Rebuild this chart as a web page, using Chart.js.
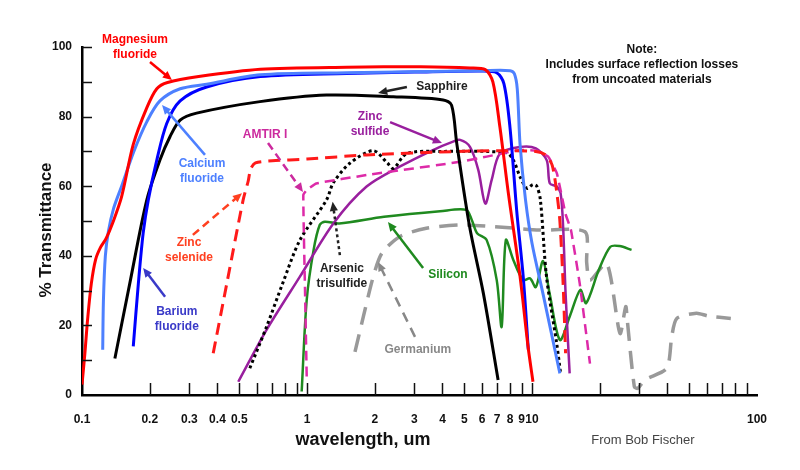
<!DOCTYPE html>
<html>
<head>
<meta charset="utf-8">
<script src="https://cdn.jsdelivr.net/npm/chart.js@4.4.1/dist/chart.umd.min.js"></script>
<style>
  html, body { margin: 0; padding: 0; background: #fff; }
  #wrap { width: 800px; height: 470px; }
</style>
</head>
<body>
<div id="wrap"><canvas id="chart"></canvas></div>
<script>
// [wavelength um, % transmittance]
const magnesiumFluoride = [[0.1, 3], [0.103, 12], [0.106, 22], [0.11, 32], [0.115, 39], [0.121, 42.5], [0.128, 45], [0.137, 49.5], [0.15, 57], [0.169, 72], [0.194, 82.5], [0.215, 88], [0.24, 89.8], [0.33, 91.5], [0.62, 93.6], [1.5, 94.2], [3.2, 94.3], [5.3, 94], [6.2, 93.5], [6.7, 90], [7.2, 77], [7.85, 58], [8.85, 34], [9.6, 14], [10.1, 3.8]];
const calciumFluoride = [[0.1236, 13], [0.1245, 27], [0.127, 40], [0.131, 47], [0.138, 53.5], [0.15, 60], [0.17, 70], [0.194, 78.5], [0.222, 84.5], [0.273, 88], [0.358, 89.3], [0.62, 92], [1.5, 92.6], [3, 92.9], [6, 93.2], [8.0, 93.2], [8.35, 92.3], [8.6, 88], [8.85, 72], [9.36, 56], [10.0, 43.6], [11.2, 29], [13.3, 6.2]];
const bariumFluoride = [[0.169, 14], [0.178, 32], [0.187, 46.5], [0.197, 56], [0.215, 67.5], [0.238, 78], [0.273, 84.5], [0.358, 88.5], [0.62, 91.5], [1.5, 92.4], [3, 92.8], [6, 93.1], [6.97, 92.6], [7.5, 89.5], [7.98, 77], [8.55, 53], [9.14, 34], [9.63, 13]];
const sapphire = [[0.14, 10.5], [0.163, 32], [0.194, 56], [0.222, 67.5], [0.246, 74.2], [0.273, 79], [0.323, 81], [0.618, 84.3], [1.22, 86.2], [2.42, 85.7], [4.03, 84.8], [4.39, 83.3], [4.63, 72.3], [5.28, 48.4], [6.08, 29.2], [7.07, 4.3]];
const zincSelenide = [[0.383, 12], [0.44, 32], [0.52, 56], [0.548, 61.5], [0.562, 65], [0.59, 66.7], [0.7, 67.3], [1.0, 67.8], [1.84, 69], [4.7, 70], [7, 70.2], [10.4, 70], [11.5, 69], [12.3, 66], [12.9, 58], [13.3, 50], [13.75, 32], [14.1, 12]];
const amtir1 = [[0.997, 5.3], [0.98, 30], [0.963, 57.5], [1.0, 59], [1.1, 60.8], [1.84, 63.2], [4.79, 67], [6.29, 68.5], [8.85, 70.4], [10.5, 70.2], [11.8, 68.5], [12.9, 63.7], [14.1, 52], [14.9, 47.4], [16.3, 32], [18.1, 9]];
const arsenicTrisulfide = [[0.557, 7.7], [0.661, 19.6], [0.78, 32.1], [0.93, 44.5], [1.22, 56], [1.31, 61], [1.55, 66.6], [1.97, 70.2], [2.28, 66.6], [2.42, 65.1], [2.78, 69.4], [4, 70], [7.7, 69.6], [8.26, 67.5], [8.85, 62.7], [9.5, 59.4], [10.1, 60.5], [10.5, 60], [10.9, 56], [11.6, 34], [12.87, 14.9], [13.4, 6.2]];
const zincSulfide = [[0.495, 3.8], [0.661, 18.7], [0.93, 34], [1.31, 49.3], [1.84, 59.9], [2.58, 65.6], [3.63, 70.4], [4.46, 72.8], [4.79, 73.3], [5.3, 71.3], [5.77, 64.7], [6.2, 55], [6.62, 61.8], [7.21, 69.4], [8.85, 71.3], [10.4, 70.9], [11.62, 67.5], [12.0, 60.8], [12.88, 59.9], [13.4, 58], [13.75, 48.4], [14.1, 29.2], [14.7, 6.2]];
const silicon = [[0.947, 1], [0.997, 27.3], [1.07, 41.7], [1.14, 48.9], [1.2, 49.8], [1.39, 49.3], [2.2, 51.2], [3.9, 52.8], [5.1, 53.2], [5.4, 50.3], [5.7, 46.5], [6.29, 44.5], [6.97, 33], [7.33, 19.6], [7.65, 44.5], [8.26, 38.8], [9.14, 33], [9.8, 33.5], [10.4, 31], [11.2, 38.5], [11.97, 29.2], [13.3, 15.8], [14.7, 22.5], [16.4, 30.2], [17.4, 26.4], [19.8, 35.9], [22.3, 42.6], [24.5, 42.8], [27.7, 41.7]];
const germanium = [[1.634, 12.4], [1.78, 22.5], [1.97, 34], [2.15, 40.7], [2.58, 45.5], [3.39, 47.9], [4.79, 48.9], [6.72, 48.4], [10.8, 47.4], [17.2, 46.9], [17.5, 38], [18.1, 33], [21.5, 37.8], [24.6, 17.7], [26.1, 25.4], [26.5, 21.6], [28.5, 2.4], [29.5, 1.9], [31.7, 4.3], [39.7, 7.7], [41.8, 16.8], [44, 22], [53.8, 23.5], [60.6, 22.7], [76.5, 22]];

const xTicks = [0.1, 0.2, 0.3, 0.4, 0.5, 0.6, 0.7, 0.8, 0.9, 1, 2, 3, 4, 5, 6, 7, 8, 9, 10, 20, 30, 40, 50, 60, 70, 80, 90, 100];
const xLabels = [0.1, 0.2, 0.3, 0.4, 0.5, 1, 2, 3, 4, 5, 6, 7, 8, 9, 10, 100];
const yTicks = [0, 10, 20, 30, 40, 50, 60, 70, 80, 90, 100];
const yLabels = [0, 20, 40, 60, 80, 100];

const FONT = "Arial, 'Liberation Sans', sans-serif";

// callouts, anchored in data units (wavelength, %)
const notes = [
    { lines: ['Magnesium', 'fluoride'], at: [0.172, 102], color: '#ff0000', from: [0.2005, 95.7], to: [0.251, 90.5], dash: [] },
    { lines: ['Sapphire'], at: [3.98, 88.5], color: '#222222', from: [2.78, 88.5], to: [2.07, 86.8], dash: [] },
    { lines: ['AMTIR I'], at: [0.651, 74.7], color: '#cc2a9e', from: [0.671, 72.4], to: [0.96, 58.3], dash: [8, 5] },
    { lines: ['Zinc', 'sulfide'], at: [1.905, 79.9], color: '#991f9e', from: [2.34, 78.4], to: [3.98, 72.4], dash: [] },
    { lines: ['Calcium', 'fluoride'], at: [0.3415, 66.4], color: '#4d80ff', from: [0.352, 69], to: [0.2268, 83.3], dash: [] },
    { lines: ['Zinc', 'selenide'], at: [0.299, 43.7], color: '#ff4020', from: [0.311, 46], to: [0.514, 58], dash: [8, 5] },
    { lines: ['Barium', 'fluoride'], at: [0.264, 23.9], color: '#3a3ac8', from: [0.234, 28.2], to: [0.187, 36.5], dash: [] },
    { lines: ['Arsenic', 'trisulfide'], at: [1.43, 36.2], color: '#222222', from: [1.4, 40.2], to: [1.3, 55.5], dash: [3, 3] },
    { lines: ['Silicon'], at: [4.23, 34.5], color: '#1f8a1f', from: [3.28, 36.5], to: [2.29, 49.7], dash: [] },
    { lines: ['Germanium'], at: [3.11, 12.9], color: '#888888', from: [3.02, 16.7], to: [2.07, 38.2], dash: [10, 7] }
];

const toPts = arr => arr.map(p => ({ x: p[0], y: p[1] }));

const series = (label, pts, color, width, dash, tension) => ({
    label: label,
    data: toPts(pts),
    borderColor: color,
    borderWidth: width,
    borderDash: dash,
    tension: tension,
    pointRadius: 0,
    fill: false
});

function drawArrow(ctx, x1, y1, x2, y2, color, dash) {
    const ang = Math.atan2(y2 - y1, x2 - x1);
    const head = 10;
    ctx.strokeStyle = color;
    ctx.fillStyle = color;
    ctx.lineWidth = 2.5;
    ctx.setLineDash(dash);
    ctx.beginPath();
    ctx.moveTo(x1, y1);
    ctx.lineTo(x2 - head * 0.8 * Math.cos(ang), y2 - head * 0.8 * Math.sin(ang));
    ctx.stroke();
    ctx.setLineDash([]);
    ctx.beginPath();
    ctx.moveTo(x2, y2);
    ctx.lineTo(x2 - head * Math.cos(ang - 0.42), y2 - head * Math.sin(ang - 0.42));
    ctx.lineTo(x2 - head * Math.cos(ang + 0.42), y2 - head * Math.sin(ang + 0.42));
    ctx.closePath();
    ctx.fill();
}

const decorations = {
    id: 'decorations',
    afterDraw(chart) {
        const { ctx, scales: { x, y } } = chart;
        ctx.save();

        // tick marks point into the plot
        ctx.strokeStyle = '#111';
        ctx.lineWidth = 1.5;
        xTicks.slice(1, -1).forEach(v => {
            const px = Math.round(x.getPixelForValue(v)) + 0.5;
            ctx.beginPath();
            ctx.moveTo(px, y.bottom);
            ctx.lineTo(px, y.bottom - 12);
            ctx.stroke();
        });
        yTicks.slice(1).forEach(v => {
            const py = Math.round(y.getPixelForValue(v)) + 0.5;
            ctx.beginPath();
            ctx.moveTo(x.left, py);
            ctx.lineTo(x.left + 10, py);
            ctx.stroke();
        });

        // callouts
        ctx.textAlign = 'center';
        ctx.textBaseline = 'middle';
        notes.forEach(n => {
            ctx.font = 'bold 12px ' + FONT;
            ctx.fillStyle = n.color;
            const cx = x.getPixelForValue(n.at[0]);
            const cy = y.getPixelForValue(n.at[1]);
            n.lines.forEach((t, i) => ctx.fillText(t, cx, cy + i * 14.5));
            drawArrow(ctx, x.getPixelForValue(n.from[0]), y.getPixelForValue(n.from[1]),
                x.getPixelForValue(n.to[0]), y.getPixelForValue(n.to[1]), n.color, n.dash);
        });

        ctx.font = 'bold 12px ' + FONT;
        ctx.fillStyle = '#111';
        const nx = x.getPixelForValue(30.8);
        const ny = y.getPixelForValue(99.1);
        ['Note:', 'Includes surface reflection losses', 'from uncoated materials']
            .forEach((t, i) => ctx.fillText(t, nx, ny + i * 15));

        ctx.font = '13px ' + FONT;
        ctx.fillStyle = '#444';
        ctx.fillText('From Bob Fischer', x.getPixelForValue(31.1), 440);

        // axis titles
        ctx.font = 'bold 18px ' + FONT;
        ctx.fillStyle = '#111';
        ctx.fillText('wavelength, um', 363, 440);
        ctx.translate(46, 230);
        ctx.rotate(-Math.PI / 2);
        ctx.font = 'bold 17px ' + FONT;
        ctx.fillText('% Transmittance', 0, 0);

        ctx.restore();
    }
};

new Chart(document.getElementById('chart'), {
    type: 'line',
    data: {
        datasets: [
            series('Magnesium fluoride', magnesiumFluoride, '#ff0000', 3, [], 0.3),
            series('Calcium fluoride', calciumFluoride, '#4d80ff', 3, [], 0.3),
            series('Barium fluoride', bariumFluoride, '#0000ff', 3, [], 0.3),
            series('Sapphire', sapphire, '#000000', 3, [], 0.3),
            series('Zinc selenide', zincSelenide, '#ff1a1a', 3, [12, 7], 0.25),
            series('AMTIR I', amtir1, '#dd2aa8', 2.5, [10, 6], 0.1),
            series('Arsenic trisulfide', arsenicTrisulfide, '#000000', 3, [3, 3], 0.3),
            series('Zinc sulfide', zincSulfide, '#991f9e', 2.5, [], 0.3),
            series('Silicon', silicon, '#1f8a1f', 2.5, [], 0.3),
            series('Germanium', germanium, '#999999', 3.5, [18, 10], 0.25)
        ]
    },
    options: {
        responsive: true,
        maintainAspectRatio: false,
        animation: false,
        layout: { padding: { top: 47, right: 43, left: 0, bottom: 0 } },
        plugins: {
            legend: { display: false },
            tooltip: { enabled: false }
        },
        scales: {
            x: {
                type: 'logarithmic',
                min: 0.1,
                max: 100,
                afterBuildTicks: s => { s.ticks = xTicks.map(v => ({ value: v })); },
                afterFit: s => { s.height = 75; },
                grid: { display: false, drawTicks: false },
                border: { color: '#000', width: 2.5 },
                ticks: {
                    autoSkip: false,
                    maxRotation: 0,
                    padding: 17,
                    color: '#111',
                    font: { family: FONT, size: 12, weight: 'bold' },
                    callback: v => xLabels.includes(v) ? String(v) : ''
                }
            },
            y: {
                min: 0,
                max: 100,
                afterBuildTicks: s => { s.ticks = yTicks.map(v => ({ value: v })); },
                afterFit: s => { s.width = 82; },
                grid: { display: false, drawTicks: false },
                border: { color: '#000', width: 2.5 },
                ticks: {
                    padding: 10,
                    color: '#111',
                    font: { family: FONT, size: 12, weight: 'bold' },
                    callback: v => yLabels.includes(v) ? String(v) : ''
                }
            }
        }
    },
    plugins: [decorations]
});
</script>
</body>
</html>
